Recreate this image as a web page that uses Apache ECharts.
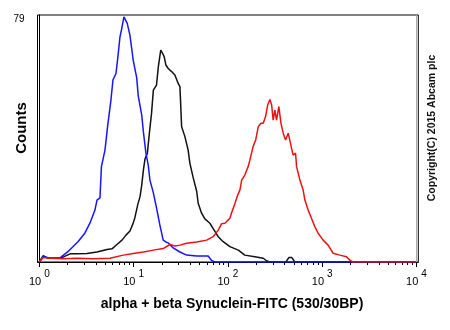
<!DOCTYPE html>
<html>
<head>
<meta charset="utf-8">
<script src="https://cdn.jsdelivr.net/npm/echarts@6/dist/echarts.min.js"></script>
<style>html,body{margin:0;padding:0;background:#fff}#c{width:450px;height:330px}</style>
</head>
<body>
<div id="c"></div>
<script>
var majorTicks = [1, 10, 100, 1000, 10000];
var minorTicks = [2,3,4,5,6,7,8,9,20,30,40,50,60,70,80,90,200,300,400,500,600,700,800,900,2000,3000,4000,5000,6000,7000,8000,9000];
var yTickLabels = [79];

var blueX = [1.0,1.02,1.1,1.3,1.66,2.01,2.57,3.05,3.45,3.89,4.09,4.4,4.56,4.97,5.35,5.75,6.04,6.5,6.82,7.17,7.43,7.9,8.15,8.56,9.15,9.9,10.8,11.2,12.2,12.7,13.5,14.3,14.9,16.2,17.5,19.0,20.6,22.0,23.3,26.3,31.0,36.5,46.6,61.8,67.2,72.6,10000];
var blueY = [0,0.2,1.7,1.3,1.3,3.3,6.5,9.3,12.5,16.6,19.8,20.5,30.5,35.8,44.4,51.8,58.2,60.3,65.7,72,74.2,78.4,79,76.3,72.5,64.6,58.8,53.1,47,41.6,34.9,31,26.2,22.1,17.3,11.8,7.0,6.4,6.1,4.5,3.2,2.2,1.9,1.9,0.5,0,0];

var blackX = [1.0,1.02,1.1,1.21,1.47,1.74,2.12,2.51,3.2,4.09,5.22,5.9,6.66,7.53,8.3,9.15,9.84,10.3,11.1,11.7,12.2,12.7,13.2,14.0,14.7,15.5,16.2,17.5,18.3,19.4,20.3,21.1,22.0,23.3,25.3,27.4,29.7,31.0,32.3,35.0,37.9,39.5,42.9,46.6,48.4,52.6,57.0,64.4,69.8,78.9,89.2,105,129,151,193,237,257,279,412,443,477,513,10000];
var blackY = [0,0.6,2.0,1.3,1.2,1.4,2.6,2.6,2.7,3.2,4.0,4.2,5.6,7.0,8.6,9.9,12.2,14.1,18.5,20.9,24.6,29.4,32.9,34.8,41.2,47.6,55.0,56.6,62.5,67.8,66.7,65.7,63.0,61.9,60.9,59.8,57.1,56.1,43.3,40.1,35.8,31.6,26.9,22.7,18.8,15.6,13.8,12.4,10.7,8.1,6.5,4.9,3.8,2.2,1.7,1.2,0.4,0,0,1.4,1.4,0,0];

var redX = [1.0,1.02,1.1,1.3,1.8,2.49,3.73,5.61,7.77,9.91,12.7,16.2,20.6,24.3,27.4,31.0,36.5,46.6,59.5,69.8,78.9,85.7,93.0,105,109,119,127,134,140,151,164,171,185,197,210,224,237,251,264,279,291,302,315,328,347,365,386,409,436,473,492,522,535,580,628,655,710,758,836,906,1023,1156,1306,1538,1812,1963,2128,10000];
var redY = [0,0.6,1.4,1.2,1.0,1.2,1.0,1.2,2.2,2.7,3.2,3.8,4.3,5.6,5.1,5.4,6.0,6.4,7.0,8.1,10.2,12.2,12.4,14.0,15.6,18.8,21.4,23.0,26.2,27.8,30.5,32.6,36.9,39.0,43.3,44.4,44.4,46.5,50.2,52.0,50.2,45.4,48.6,45.4,49.7,44.4,41.2,39.0,41.2,36.4,34.2,34.8,30.5,26.2,23.0,19.8,16.6,14.5,11.3,9.2,7.0,5.4,2.8,2.2,1.7,0.6,0,0];

function zip(xs, ys) { return xs.map(function (x, i) { return [x, ys[i]]; }); }

var X_MIN = 0.957, X_MAX = 10450;
var FONT = '"Liberation Sans", Arial, sans-serif';
var chart = echarts.init(document.getElementById('c'), null, {renderer: 'canvas'});
chart.setOption({
  animation: false,
  backgroundColor: '#fff',
  grid: {left: 37.5, top: 15, right: 31.7, bottom: 68, show: true, borderColor: '#000', borderWidth: 1, backgroundColor: 'transparent'},
  xAxis: [{
    type: 'log', logBase: 10, min: X_MIN, max: X_MAX, position: 'bottom',
    axisLine: {show: true, lineStyle: {color: '#000', width: 1}},
    axisTick: {show: false},
    axisLabel: {
      show: true, customValues: majorTicks, margin: 4, color: '#000', fontFamily: FONT,
      formatter: function (v) { return '{b|10}{e|' + Math.round(Math.log10(v)) + '}'; },
      rich: {
        b: {fontSize: 11, fontFamily: FONT, color: '#000', padding: [10, 0, 0, 0]},
        e: {fontSize: 10, fontFamily: FONT, color: '#000', padding: [0, 0, 4, 3]}
      }
    },
    splitLine: {show: false}
  }, {
    type: 'value', min: Math.log10(X_MIN), max: Math.log10(X_MAX), position: 'bottom',
    axisLine: {show: false},
    axisTick: {show: true, length: 5, customValues: majorTicks.map(Math.log10), lineStyle: {color: '#000', width: 1}},
    axisLabel: {show: false},
    splitLine: {show: false}
  }, {
    type: 'value', min: Math.log10(X_MIN), max: Math.log10(X_MAX), position: 'bottom',
    axisLine: {show: false},
    axisTick: {show: true, length: 3, customValues: minorTicks.map(Math.log10), lineStyle: {color: '#000', width: 1}},
    axisLabel: {show: false},
    splitLine: {show: false}
  }],
  yAxis: {
    type: 'value', min: 0, max: 79, interval: 79,
    axisLine: {show: true, lineStyle: {color: '#000'}},
    axisTick: {show: false},
    axisLabel: {
      color: '#000', fontSize: 10, fontFamily: FONT, margin: 13,
      formatter: function (v) { return yTickLabels.indexOf(v) >= 0 ? '{a|' + v + '}' : ''; },
      rich: {a: {fontSize: 10, fontFamily: FONT, color: '#000', padding: [8, 0, 0, 0]}}
    },
    splitLine: {show: false}
  },
  series: [
    {type: 'line', xAxisIndex: 0, data: zip(blackX, blackY), showSymbol: false, symbol: 'none', lineStyle: {color: '#111', width: 1.5}, z: 2},
    {type: 'line', xAxisIndex: 0, data: zip(blueX, blueY), showSymbol: false, symbol: 'none', lineStyle: {color: '#1515ff', width: 1.5}, z: 3},
    {type: 'line', xAxisIndex: 0, data: zip(redX, redY), showSymbol: false, symbol: 'none', lineStyle: {color: '#ee1111', width: 1.5}, z: 4,
      markLine: {silent: true, symbol: 'none', label: {show: false}, lineStyle: {color: '#aaa', width: 1, type: 'solid'}, data: [{xAxis: 10000}]}}
  ],
  graphic: [
    {type: 'text', x: 22, y: 128, rotation: Math.PI / 2, style: {text: 'Counts', font: 'bold 15px ' + FONT, fill: '#000', textAlign: 'center', textVerticalAlign: 'middle'}},
    {type: 'text', x: 232, y: 304, style: {text: 'alpha + beta Synuclein-FITC (530/30BP)', font: 'bold 14px ' + FONT, fill: '#000', textAlign: 'center', textVerticalAlign: 'middle'}},
    {type: 'text', x: 432, y: 128, rotation: Math.PI / 2, style: {text: 'Copyright(C) 2015 Abcam plc', font: 'bold 10.5px ' + FONT, fill: '#111', textAlign: 'center', textVerticalAlign: 'middle'}}
  ]
});
</script>
</body>
</html>
